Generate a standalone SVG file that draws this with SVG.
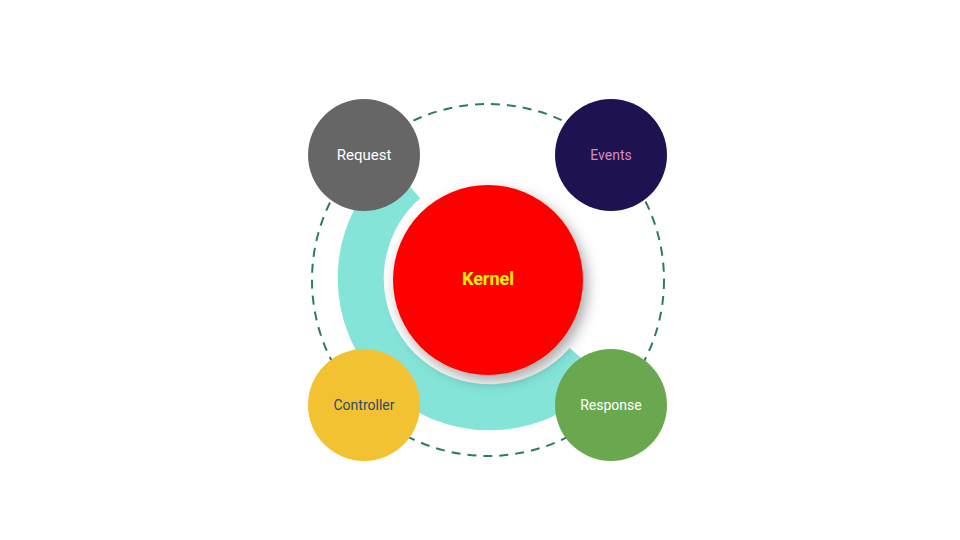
<svg xmlns="http://www.w3.org/2000/svg" width="960" height="540" viewBox="0 0 960 540">
<defs>
<filter id="sh" x="-30%" y="-30%" width="160%" height="160%"><feDropShadow dx="4" dy="6" stdDeviation="7" flood-color="#000" flood-opacity="0.35"/></filter>
<style>
text{font-family:Roboto,"Liberation Sans",sans-serif;text-anchor:middle;dominant-baseline:central}
.s{font-size:14px}
</style>
</defs>
<rect width="960" height="540" fill="#fff"/>
<g id="connectors">
<circle cx="488" cy="280" r="176" fill="none" stroke="#2b7a6b" stroke-width="2" stroke-dasharray="9 7"/>
<path d="M405 181 A129 129 0 1 0 587 363" fill="none" stroke="#84e4d8" stroke-width="46"/>
</g>
<g id="kernel"><circle cx="488" cy="280" r="95" fill="#ff0000" filter="url(#sh)"/><text x="488" y="278" font-size="18" font-weight="bold" fill="#ffee00">Kernel</text></g>
<g id="request"><circle cx="364" cy="155" r="56" fill="#666666"/><text x="364" y="155" font-size="15" fill="#fff">Request</text></g>
<g id="events"><circle cx="611" cy="155" r="56" fill="#1e1250"/><text class="s" x="611" y="155" fill="#d58cc0">Events</text></g>
<g id="controller"><circle cx="364" cy="405" r="56" fill="#f2c233"/><text class="s" x="364" y="405" fill="#2e4a6e">Controller</text></g>
<g id="response"><circle cx="611" cy="405" r="56" fill="#6aa84f"/><text class="s" x="611" y="405" fill="#fff">Response</text></g>
</svg>
